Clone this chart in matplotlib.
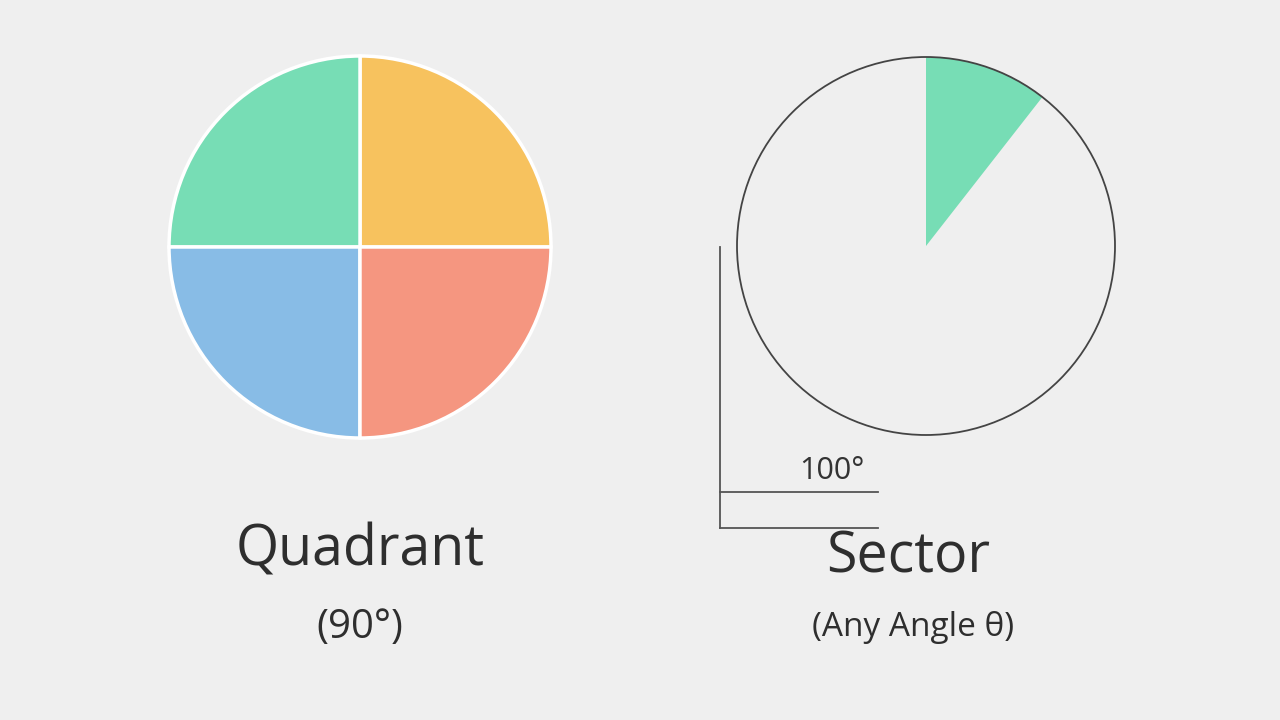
import matplotlib.pyplot as plt
from matplotlib.patches import Wedge, Circle

# data
quadrant_sizes = [1, 1, 1, 1]
quadrant_colors = ['#f7c25e', '#77ddb5', '#88bce6', '#f59680']
sector_angles = [52, 90]  # start, end in degrees
sector_label = '100°'
titles = ['Quadrant', 'Sector']
subtitles = ['(90°)', '(Any Angle θ)']

bg = '#efefef'
fig = plt.figure(figsize=(12.8, 7.2), dpi=100, facecolor=bg)
ax = fig.add_axes([0, 0, 1, 1])
ax.set_xlim(0, 1280)
ax.set_ylim(0, 720)
ax.set_aspect('equal')
ax.axis('off')
ax.set_facecolor(bg)

# quadrant pie
ax.pie(quadrant_sizes, colors=quadrant_colors, startangle=0, center=(360, 473),
       radius=191, frame=True, wedgeprops=dict(edgecolor='white', linewidth=2.5))
ax.set_xlim(0, 1280)
ax.set_ylim(0, 720)
ax.axis('off')

# sector circle
cx, cy, r = 926, 474, 189
ax.add_patch(Wedge((cx, cy), r, sector_angles[0], sector_angles[1],
                   facecolor='#77ddb5', edgecolor='none'))
ax.add_patch(Circle((cx, cy), r, fill=False, edgecolor='#444444', linewidth=1.3))

# bracket lines
lc = '#555555'
ax.plot([720, 720], [720 - 247, 720 - 528], color=lc, lw=1.3)
ax.plot([720, 878], [720 - 528, 720 - 528], color=lc, lw=1.3)
ax.plot([720, 878], [720 - 492, 720 - 492], color=lc, lw=1.3)
ax.text(832, 720 - 471, sector_label, fontsize=22, ha='center', va='center',
        color='#333333', family='Open Sans')

tc = '#2e2e2e'
ax.text(360, 720 - 551, titles[0], fontsize=40, ha='center', va='center', color=tc, family='Open Sans')
ax.text(360, 720 - 628, subtitles[0], fontsize=29, ha='center', va='center', color=tc, family='Open Sans')
ax.text(908, 720 - 558, titles[1], fontsize=40, ha='center', va='center', color=tc, family='Open Sans')
ax.text(913, 720 - 628, subtitles[1], fontsize=24, ha='center', va='center', color=tc,
        family=['Open Sans', 'DejaVu Sans'])

fig.savefig('out.png', dpi=100, facecolor=bg)
